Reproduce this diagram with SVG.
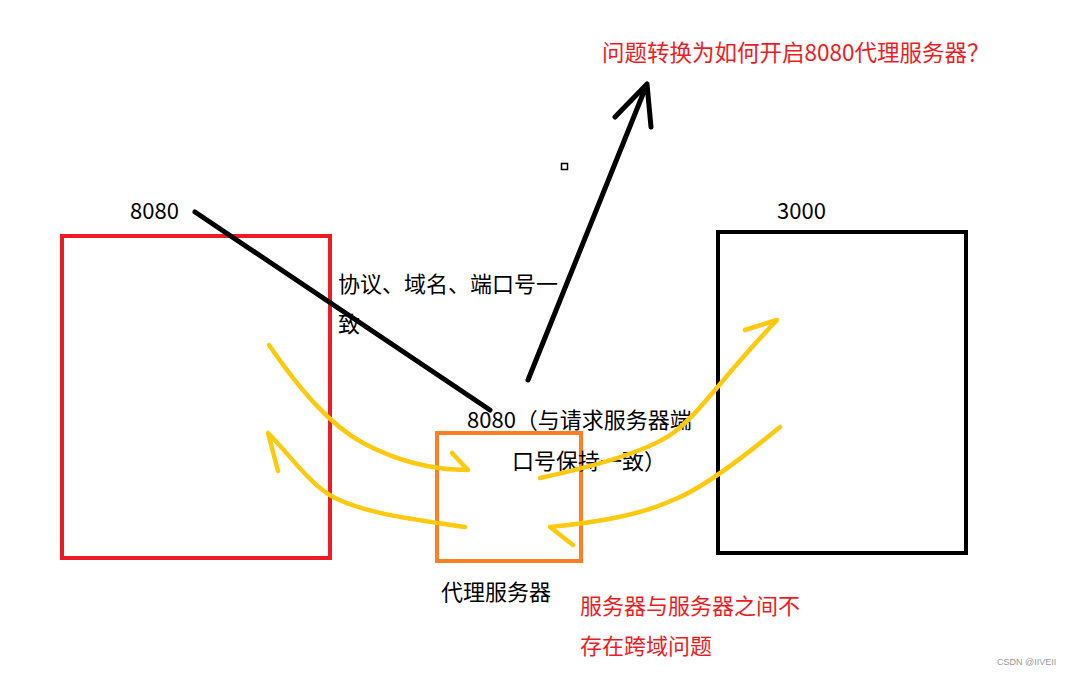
<svg xmlns="http://www.w3.org/2000/svg" width="1067" height="675" viewBox="0 0 1067 675">
<style>
text{font-family:"Microsoft YaHei","Noto Sans CJK SC",sans-serif;font-size:22px;fill:#000}
.red{fill:#ED1C24}
.y{fill:none;stroke:#FFC90E;stroke-width:4.5;stroke-linecap:round;stroke-linejoin:round}
.k{fill:none;stroke:#000;stroke-width:5;stroke-linecap:round;stroke-linejoin:round}
</style>
<rect width="1067" height="675" fill="#fff"/>
<g id="client">
<rect x="62" y="236" width="268" height="322" fill="none" stroke="#ED1C24" stroke-width="4"/>
<text x="130" y="219">8080</text>
</g>
<g id="proxy">
<rect x="437" y="433" width="144" height="128" fill="none" stroke="#FF7F27" stroke-width="4"/>
<text x="441" y="600">代理服务器</text>
<text x="467" y="428">8080（与请求服务器端</text>
<text x="512" y="469">口号保持一致）</text>
</g>
<g id="server">
<rect x="718" y="232" width="248" height="321" fill="none" stroke="#000" stroke-width="4"/>
<text x="777" y="219">3000</text>
</g>
<g id="notes">
<text x="338" y="292">协议、域名、端口号一</text>
<text x="338" y="332">致</text>
<text class="red" x="602" y="61" style="font-size:22.5px">问题转换为如何开启8080代理服务器？</text>
<text class="red" x="580" y="614">服务器与服务器之间不</text>
<text class="red" x="580" y="654">存在跨域问题</text>
<rect x="561.5" y="163.5" width="6" height="6" fill="none" stroke="#000" stroke-width="1.5"/>
<text x="997" y="665" style="font-family:'Liberation Sans',sans-serif;font-size:9px;fill:#999">CSDN @IIVEII</text>
</g>
<g id="connectors">
<path class="k" d="M195,212 L490,410"/>
<path class="k" d="M528,380 L647,84 M615,117 L647,84 L651,127"/>
<path class="y" d="M269,345 C300,390 330,425 363,443 C395,460 430,470 468,470 L452,453"/>
<path class="y" d="M465,527 C420,520 370,515 335,498 C310,485 290,455 268,433 L278,471"/>
<path class="y" d="M540,478 C600,465 650,450 673,433 C700,413 720,380 777,320 L745,330"/>
<path class="y" d="M780,427 C740,460 700,490 673,500 C640,515 600,522 550,527 L573,545"/>
</g>
</svg>
